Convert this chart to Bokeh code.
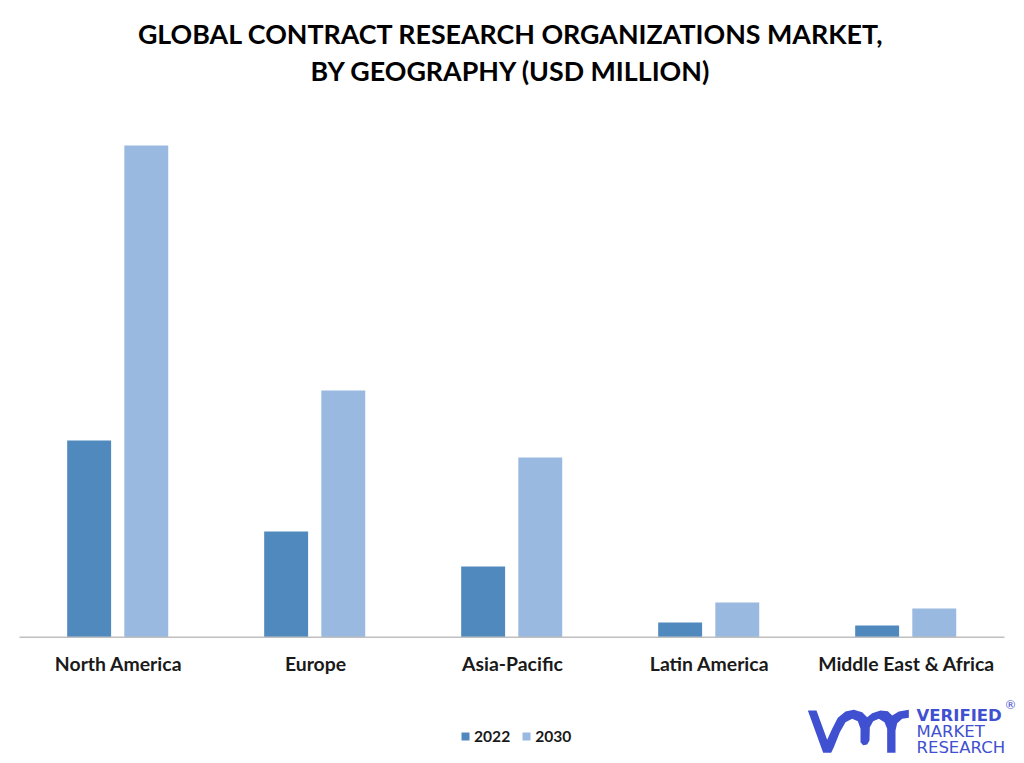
from bokeh.embed import file_html
from bokeh.resources import INLINE
from bokeh.plotting import figure
from bokeh.models import (BoxAnnotation, ColumnDataSource, FactorRange, Range1d, Legend, LegendItem,
                          Label, PolyAnnotation)
from bokeh.transform import dodge

categories = ["North America", "Europe", "Asia-Pacific", "Latin America", "Middle East & Africa"]
values_2022 = [197, 106, 71, 15, 12]
values_2030 = [492, 247, 180, 35, 29]
series_names = ["2022", "2030"]
title_lines = ["GLOBAL CONTRACT RESEARCH ORGANIZATIONS MARKET,", "BY GEOGRAPHY (USD MILLION)"]
logo_words = ["VERIFIED", "MARKET", "RESEARCH"]

COL_2022 = "#5089BE"
COL_2030 = "#99B9E0"
FONT = "Lato"

W, H = 1024, 763
BASE = 637


def sy(py):
    return H - py


source = ColumnDataSource(dict(cat=categories, v22=values_2022, v30=values_2030))

p = figure(width=W, height=H, output_backend="svg", toolbar_location=None,
           x_range=FactorRange(factors=categories, range_padding=0.0396),
           y_range=Range1d(BASE - H, BASE),
           min_border=0,
           outline_line_color=None, background_fill_color="white", border_fill_color="white")

r22 = p.vbar(x=dodge("cat", -0.149, range=p.x_range), top="v22", width=0.223, source=source,
             fill_color=COL_2022, line_color=None)
r30 = p.vbar(x=dodge("cat", 0.141, range=p.x_range), top="v30", width=0.223, source=source,
             fill_color=COL_2030, line_color=None)

p.xgrid.visible = False
p.ygrid.visible = False
p.yaxis.visible = False
ax = p.xaxis[0]
ax.fixed_location = 0
ax.axis_line_color = None
ax.major_tick_line_color = None
ax.minor_tick_line_color = None
ax.major_label_text_font = FONT
ax.major_label_text_font_style = "bold"
ax.major_label_text_font_size = "19.4px"
ax.major_label_text_color = "#1a1a1a"
ax.major_label_standoff = 8

p.add_layout(BoxAnnotation(left=19, right=1004, top=sy(636), bottom=sy(637.5),
                           left_units="screen", right_units="screen",
                           top_units="screen", bottom_units="screen",
                           fill_color="#BFBFBF", fill_alpha=1, line_color=None))

legend = Legend(items=[LegendItem(label=series_names[0], renderers=[r22]),
                       LegendItem(label=series_names[1], renderers=[r30])],
                orientation="horizontal", location=(460, sy(745)),
                border_line_color=None, background_fill_alpha=0,
                glyph_width=10, glyph_height=10, label_standoff=4, spacing=11,
                padding=0, margin=0,
                label_text_font=FONT, label_text_font_style="bold",
                label_text_font_size="15.6px", label_text_color="#1a1a1a")
p.add_layout(legend, "center")

for i, line in enumerate(title_lines):
    p.add_layout(Label(x=510.5, y=sy(33 + 37 * i), x_units="screen", y_units="screen",
                       text=line, text_align="center", text_baseline="middle",
                       text_font=FONT, text_font_style="bold", text_font_size="26.8px",
                       text_color="#000000"))

LOGO = "#3F51D0"
logo_zoom_x = [22, 48, 80, 95, 112, 135, 160, 185, 200, 215, 240, 262, 275, 295, 325, 325, 305, 290,
               285, 285, 260, 260, 252, 235, 218, 208, 207, 200, 188, 180, 180, 172, 155, 135, 118,
               100, 92, 68]
logo_zoom_y = [30, 30, 118, 85, 52, 33, 28, 35, 50, 38, 30, 32, 45, 33, 28, 52, 55, 68,
               90, 157, 157, 85, 65, 55, 62, 80, 120, 132, 134, 125, 85, 62, 55, 65, 95,
               140, 157, 157]
p.add_layout(PolyAnnotation(xs=[800 + v / 3 for v in logo_zoom_x],
                            ys=[sy(700 + v / 3) for v in logo_zoom_y],
                            xs_units="screen", ys_units="screen",
                            fill_color=LOGO, fill_alpha=1, line_color=None))

for i, word in enumerate(logo_words):
    p.add_layout(Label(x=916, y=sy(715 + 16 * i), x_units="screen", y_units="screen",
                       text=word, text_align="left", text_baseline="middle",
                       text_font="DejaVu Sans", text_font_style="bold" if i == 0 else "normal",
                       text_font_size="16.5px", text_color=LOGO))
p.add_layout(Label(x=1010, y=sy(704), x_units="screen", y_units="screen", text="®",
                   text_align="center", text_baseline="middle", text_font=FONT,
                   text_font_size="12px", text_color=LOGO))

open("out.html", "w").write(file_html(p, INLINE))
